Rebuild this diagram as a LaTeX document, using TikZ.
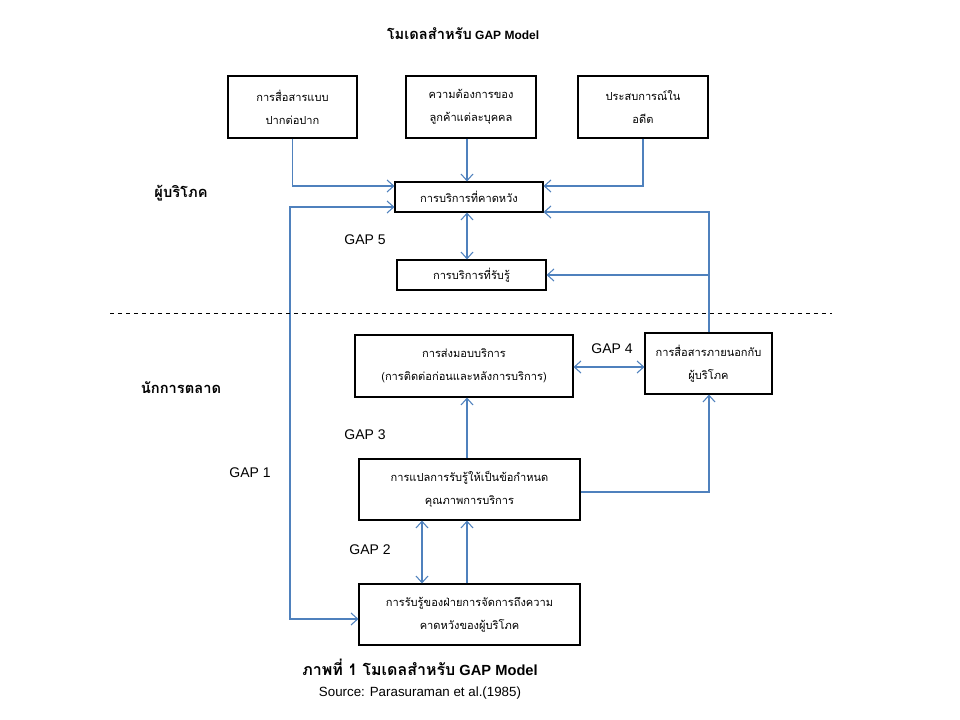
\documentclass[tikz,border=0pt]{standalone}
\usepackage{fontspec}
\setmainfont{Liberation Sans}
\newfontfamily\thaifont[Script=Thai]{Loma}
\usetikzlibrary{arrows.meta}
\definecolor{ln}{HTML}{4F81BD}
\begin{document}
\begin{tikzpicture}[x=0.75pt,y=-0.75pt,
  box/.style={draw,thick,inner sep=0,align=center,font=\thaifont\fontsize{8.3}{17}\selectfont},
  con/.style={ln,thick,-{Straight Barb[length=5pt,width=9pt]}},
  gap/.style={font=\fontsize{10.5}{12}\selectfont}]
\useasboundingbox (0,0) rectangle (960,720);
\node[box,minimum width=129*0.75pt,minimum height=62*0.75pt] (A) at (292.5,107) {การสื่อสารแบบ\\ปากต่อปาก};
\node[box,minimum width=130*0.75pt,minimum height=62*0.75pt] (B) at (471,107) {ความต้องการของ\\ลูกค้าแต่ละบุคคล};
\node[box,minimum width=130*0.75pt,minimum height=62*0.75pt] (C) at (643,107) {ประสบการณ์ใน\\อดีต};
\node[box,minimum width=148*0.75pt,minimum height=30*0.75pt] (E) at (469,197) {การบริการที่คาดหวัง};
\node[box,minimum width=149*0.75pt,minimum height=30*0.75pt] (P) at (471.5,275) {การบริการที่รับรู้};
\node[box,minimum width=218*0.75pt,minimum height=62*0.75pt] (D) at (464,366) {การส่งมอบบริการ\\(การติดต่อก่อนและหลังการบริการ)};
\node[box,minimum width=127*0.75pt,minimum height=61*0.75pt] (X) at (708.5,363.5) {การสื่อสารภายนอกกับ\\ผู้บริโภค};
\node[box,minimum width=221*0.75pt,minimum height=61*0.75pt] (T) at (469.5,489.5) {การแปลการรับรู้ให้เป็นข้อกำหนด\\คุณภาพการบริการ};
\node[box,minimum width=221*0.75pt,minimum height=61*0.75pt] (M) at (469.5,614.5) {การรับรู้ของฝ่ายการจัดการถึงความ\\คาดหวังของผู้บริโภค};
\coordinate (l1) at (290,207);
\coordinate (l2) at (290,619);
\coordinate (r1) at (709,212);
\coordinate (r2) at (709,275);
\coordinate (r3) at (709,492);
\draw[con] (A.south) |- (E.west|-0,186);
\draw[con] (B.south-|467,0) -- (E.north-|467,0);
\draw[con] (C.south) |- (E.east|-0,186);
\draw[con,{Straight Barb[length=5pt,width=9pt]}-{Straight Barb[length=5pt,width=9pt]}] (E.west|-l1) -- (l1) -- (l2) -- (M.west|-l2);
\draw[con,{Straight Barb[length=5pt,width=9pt]}-{Straight Barb[length=5pt,width=9pt]}] (E.south-|467,0) -- (P.north-|467,0);
\draw[con] (X.north-|r1) -- (r1) -- (E.east|-r1);
\draw[con] (r1) -- (r2) -- (P.east|-r2);
\draw[con,{Straight Barb[length=5pt,width=9pt]}-{Straight Barb[length=5pt,width=9pt]}] (D.east|-0,367) -- (X.west|-0,367);
\draw[con] (T.north-|467,0) -- (D.south-|467,0);
\draw[con] (T.east|-r3) -- (r3) -- (X.south-|r3);
\draw[con,{Straight Barb[length=5pt,width=9pt]}-{Straight Barb[length=5pt,width=9pt]}] (M.north-|422,0) -- (T.south-|422,0);
\draw[con] (M.north-|467,0) -- (T.south-|467,0);
\draw[dashed] (110,313) -- (832,313);
\node[gap] (g1) at (250,473) {GAP 1};
\node[gap] (g2) at (370,550) {GAP 2};
\node[gap] (g3) at (365,435) {GAP 3};
\node[gap] (g4) at (612,349) {GAP 4};
\node[gap] (g5) at (365,240) {GAP 5};
\node[font=\thaifont\bfseries\fontsize{11}{13}\selectfont] (cons) at (181,193) {ผู้บริโภค};
\node[font=\thaifont\bfseries\fontsize{11}{13}\selectfont] (mkt) at (181,388) {นักการตลาด};
\node[font=\bfseries\fontsize{9}{12}\selectfont] (title) at (463,34) {{\thaifont\fontsize{11}{12}\selectfont โมเดลสำหรับ} GAP Model};
\node[font=\bfseries\fontsize{11}{13}\selectfont] (cap) at (420,667) {{\thaifont\fontsize{12}{13}\selectfont ภาพที่ 1 โมเดลสำหรับ} GAP Model};
\node[font=\fontsize{10}{12}\selectfont] (src) at (420,693) {Source: Parasuraman et al.(1985)};
\end{tikzpicture}
\end{document}
